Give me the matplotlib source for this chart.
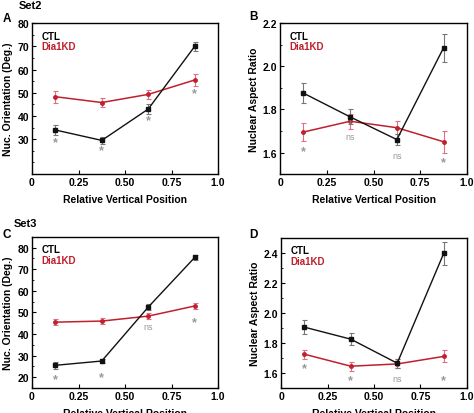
import matplotlib
matplotlib.use("Agg")
import matplotlib.pyplot as plt
from matplotlib.ticker import MultipleLocator

plt.rcParams['font.family'] = ['Liberation Sans', 'DejaVu Sans']
plt.rcParams['font.weight'] = 'bold'

x_pos = [0.125, 0.375, 0.625, 0.875]

# Panel A (Set2, orientation)
a_ctl = [34.0, 29.5, 43.0, 70.0]
a_ctl_err = [2.0, 1.5, 2.0, 2.0]
a_kd = [48.3, 45.8, 49.3, 55.5]
a_kd_err = [2.5, 2.0, 2.0, 2.5]
a_sig = ["*", "*", "*", "*"]
a_sig_y = [29.5, 25.8, 38.8, 50.5]

# Panel B (Set2, aspect ratio)
b_ctl = [1.875, 1.765, 1.66, 2.085]
b_ctl_err = [0.045, 0.035, 0.025, 0.065]
b_kd = [1.695, 1.745, 1.715, 1.65]
b_kd_err = [0.04, 0.035, 0.03, 0.05]
b_sig = ["*", "ns", "ns", "*"]
b_sig_y = [1.615, 1.675, 1.588, 1.562]

# Panel C (Set3, orientation)
c_ctl = [25.5, 27.5, 52.5, 75.5]
c_ctl_err = [1.5, 1.0, 1.5, 1.0]
c_kd = [45.5, 46.0, 48.3, 53.0]
c_kd_err = [1.5, 1.5, 1.5, 1.5]
c_sig = ["*", "*", "ns", "*"]
c_sig_y = [19.8, 20.5, 43.5, 46.3]

# Panel D (Set3, aspect ratio)
d_ctl = [1.905, 1.825, 1.665, 2.395]
d_ctl_err = [0.045, 0.04, 0.03, 0.075]
d_kd = [1.725, 1.645, 1.66, 1.71]
d_kd_err = [0.03, 0.03, 0.03, 0.04]
d_sig = ["*", "*", "ns", "*"]
d_sig_y = [1.64, 1.565, 1.565, 1.565]

x_ticks = [0, 0.25, 0.5, 0.75, 1.0]
x_ticklabels = ["0", "0.25", "0.50", "0.75", "1.0"]

RED = "#c0202e"
RED_ERR = "#e07080"
BLACK = "#111111"
GREY_ERR = "#777777"
SIG_C = "#999999"

fig = plt.figure(figsize=(4.74, 4.14), dpi=100)

panels = [
    dict(rect=[0.0675, 0.577, 0.3925, 0.365], ctl=a_ctl, ctl_err=a_ctl_err, kd=a_kd, kd_err=a_kd_err,
         sig=a_sig, sig_y=a_sig_y, ylim=(15, 80), yticks=[30, 40, 50, 60, 70, 80], yfmt="{:.0f}",
         minor=5, ylabel="Nuc. Orientation (Deg.)"),
    dict(rect=[0.591, 0.577, 0.394, 0.365], ctl=b_ctl, ctl_err=b_ctl_err, kd=b_kd, kd_err=b_kd_err,
         sig=b_sig, sig_y=b_sig_y, ylim=(1.5, 2.2), yticks=[1.6, 1.8, 2.0, 2.2], yfmt="{:.1f}",
         minor=0.1, ylabel="Nuclear Aspect Ratio"),
    dict(rect=[0.0675, 0.0604, 0.3925, 0.365], ctl=c_ctl, ctl_err=c_ctl_err, kd=c_kd, kd_err=c_kd_err,
         sig=c_sig, sig_y=c_sig_y, ylim=(15, 85), yticks=[20, 30, 40, 50, 60, 70, 80], yfmt="{:.0f}",
         minor=5, ylabel="Nuc. Orientation (Deg.)"),
    dict(rect=[0.593, 0.0604, 0.392, 0.363], ctl=d_ctl, ctl_err=d_ctl_err, kd=d_kd, kd_err=d_kd_err,
         sig=d_sig, sig_y=d_sig_y, ylim=(1.5, 2.5), yticks=[1.6, 1.8, 2.0, 2.2, 2.4], yfmt="{:.1f}",
         minor=0.1, ylabel="Nuclear Aspect Ratio"),
]

for p in panels:
    ax = fig.add_axes(p["rect"])
    ax.errorbar(x_pos, p["kd"], yerr=p["kd_err"], color=RED, ecolor=RED_ERR, elinewidth=0.8,
                capsize=1.8, capthick=0.8, lw=1.1, marker='o', ms=2.5, zorder=3)
    ax.errorbar(x_pos, p["ctl"], yerr=p["ctl_err"], color=BLACK, ecolor=GREY_ERR, elinewidth=0.8,
                capsize=1.8, capthick=0.8, lw=1.0, marker='s', ms=3, zorder=4)
    for xi, s, yi in zip(x_pos, p["sig"], p["sig_y"]):
        if s == "ns":
            ax.text(xi, yi, s, color=SIG_C, fontsize=6.5, fontweight='normal',
                    ha='center', va='center')
        else:
            ax.text(xi, yi, s, color=SIG_C, fontsize=9, fontweight='bold',
                    ha='center', va='center_baseline')
    ax.set_xlim(0, 1)
    ax.set_ylim(*p["ylim"])
    ax.set_xticks(x_ticks)
    ax.set_xticklabels(x_ticklabels)
    ax.set_yticks(p["yticks"])
    ax.set_yticklabels([p["yfmt"].format(v) for v in p["yticks"]])
    ax.yaxis.set_minor_locator(MultipleLocator(p["minor"]))
    ax.tick_params(axis='both', which='major', direction='in', length=3, width=0.8,
                   labelsize=7.5, pad=2)
    ax.tick_params(axis='y', which='minor', direction='in', length=1.5, width=0.6)
    for lbl in ax.get_xticklabels() + ax.get_yticklabels():
        lbl.set_fontweight('bold')
    for sp in ax.spines.values():
        sp.set_linewidth(1.0)
    ax.set_xlabel("Relative Vertical Position", fontsize=7.5, fontweight='bold', labelpad=5)
    ax.set_ylabel(p["ylabel"], fontsize=7.5, fontweight='bold', labelpad=3)
    ax.text(0.05, 0.95, "CTL", transform=ax.transAxes, fontsize=7, fontweight='bold',
            color='black', va='top', ha='left')
    ax.text(0.05, 0.88, "Dia1KD", transform=ax.transAxes, fontsize=7, fontweight='bold',
            color=RED, va='top', ha='left')

fig.text(0.006, 0.955, "A", fontsize=8.5, fontweight='bold', va='center')
fig.text(0.04, 0.985, "Set2", fontsize=8, fontweight='bold', va='center')
fig.text(0.525, 0.958, "B", fontsize=8.5, fontweight='bold', va='center')
fig.text(0.006, 0.432, "C", fontsize=8.5, fontweight='bold', va='center')
fig.text(0.03, 0.459, "Set3", fontsize=8, fontweight='bold', va='center')
fig.text(0.525, 0.432, "D", fontsize=8.5, fontweight='bold', va='center')

fig.savefig("out.png", dpi=100)
